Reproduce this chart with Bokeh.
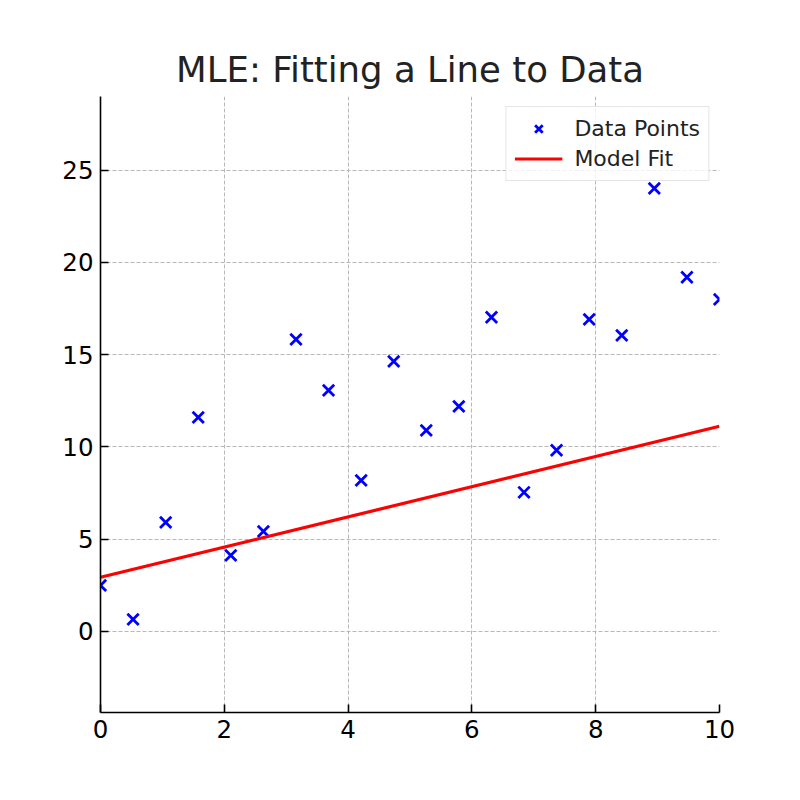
from bokeh.plotting import figure
from bokeh.models import Range1d, FixedTicker, Legend, LegendItem
from bokeh.embed import file_html
from bokeh.resources import INLINE

# Data
x_data = [0.0, 0.526, 1.053, 1.579, 2.105, 2.632, 3.158, 3.684, 4.211, 4.737,
          5.263, 5.789, 6.316, 6.842, 7.368, 7.895, 8.421, 8.947, 9.474, 10.0]
y_data = [2.49, 0.65, 5.91, 11.6, 4.12, 5.42, 15.83, 13.07, 8.19, 14.64,
          10.9, 12.2, 17.03, 7.54, 9.82, 16.92, 16.05, 24.02, 19.2, 18.0]
fit_x = [0.0, 10.0]
fit_y = [2.93, 11.12]
x_ticks = [0, 2, 4, 6, 8, 10]
y_ticks = [0, 5, 10, 15, 20, 25]

FONT = "DejaVu Sans"

p = figure(frame_width=619, frame_height=616,
           min_border_left=100, min_border_right=65,
           min_border_top=96, min_border_bottom=72,
           output_backend="svg", toolbar_location=None,
           x_range=Range1d(0, 10), y_range=Range1d(-4.4, 29.0),
           title="MLE: Fitting a Line to Data")

p.title.text_font = FONT
p.title.text_font_size = "35.5px"
p.title.text_font_style = "normal"
p.title.text_color = "#222222"
p.title.align = "center"
p.title.standoff = 13

p.outline_line_color = None
p.background_fill_color = "white"
p.border_fill_color = "white"

for ax in (p.xaxis[0], p.yaxis[0]):
    ax.major_label_text_font = FONT
    ax.major_label_text_font_size = "24.5px"
    ax.major_label_text_color = "black"
    ax.axis_line_color = "black"
    ax.axis_line_width = 1.6
    ax.major_tick_in = 8
    ax.major_tick_out = 0
    ax.major_tick_line_width = 1.6
    ax.major_tick_line_color = "black"
    ax.minor_tick_line_color = None
    ax.major_label_standoff = 7

p.xaxis[0].ticker = FixedTicker(ticks=x_ticks)
p.yaxis[0].ticker = FixedTicker(ticks=y_ticks)

for g in (p.xgrid[0], p.ygrid[0]):
    g.grid_line_color = "#b8b8b8"
    g.grid_line_dash = "4 2"
    g.grid_line_width = 1

pts = p.scatter(x_data, y_data, marker="x", size=16, line_color="#0000ff",
                line_width=2.8)
ln = p.line(fit_x, fit_y, line_color="#ff0000", line_width=3.2)

legend = Legend(items=[LegendItem(label="Data Points", renderers=[pts]),
                       LegendItem(label="Model Fit", renderers=[ln])],
                location="top_right")
legend.label_text_font = FONT
legend.label_text_font_size = "22px"
legend.label_text_color = "#222222"
legend.border_line_color = "#cccccc"
legend.border_line_width = 1.5
legend.background_fill_color = "white"
legend.background_fill_alpha = 0.8
legend.padding = 8
legend.margin = 10
legend.spacing = 3
legend.glyph_width = 48
legend.glyph_height = 27
legend.label_height = 27
legend.label_standoff = 12
p.add_layout(legend)

open("out.html", "w").write(file_html(p, INLINE))
